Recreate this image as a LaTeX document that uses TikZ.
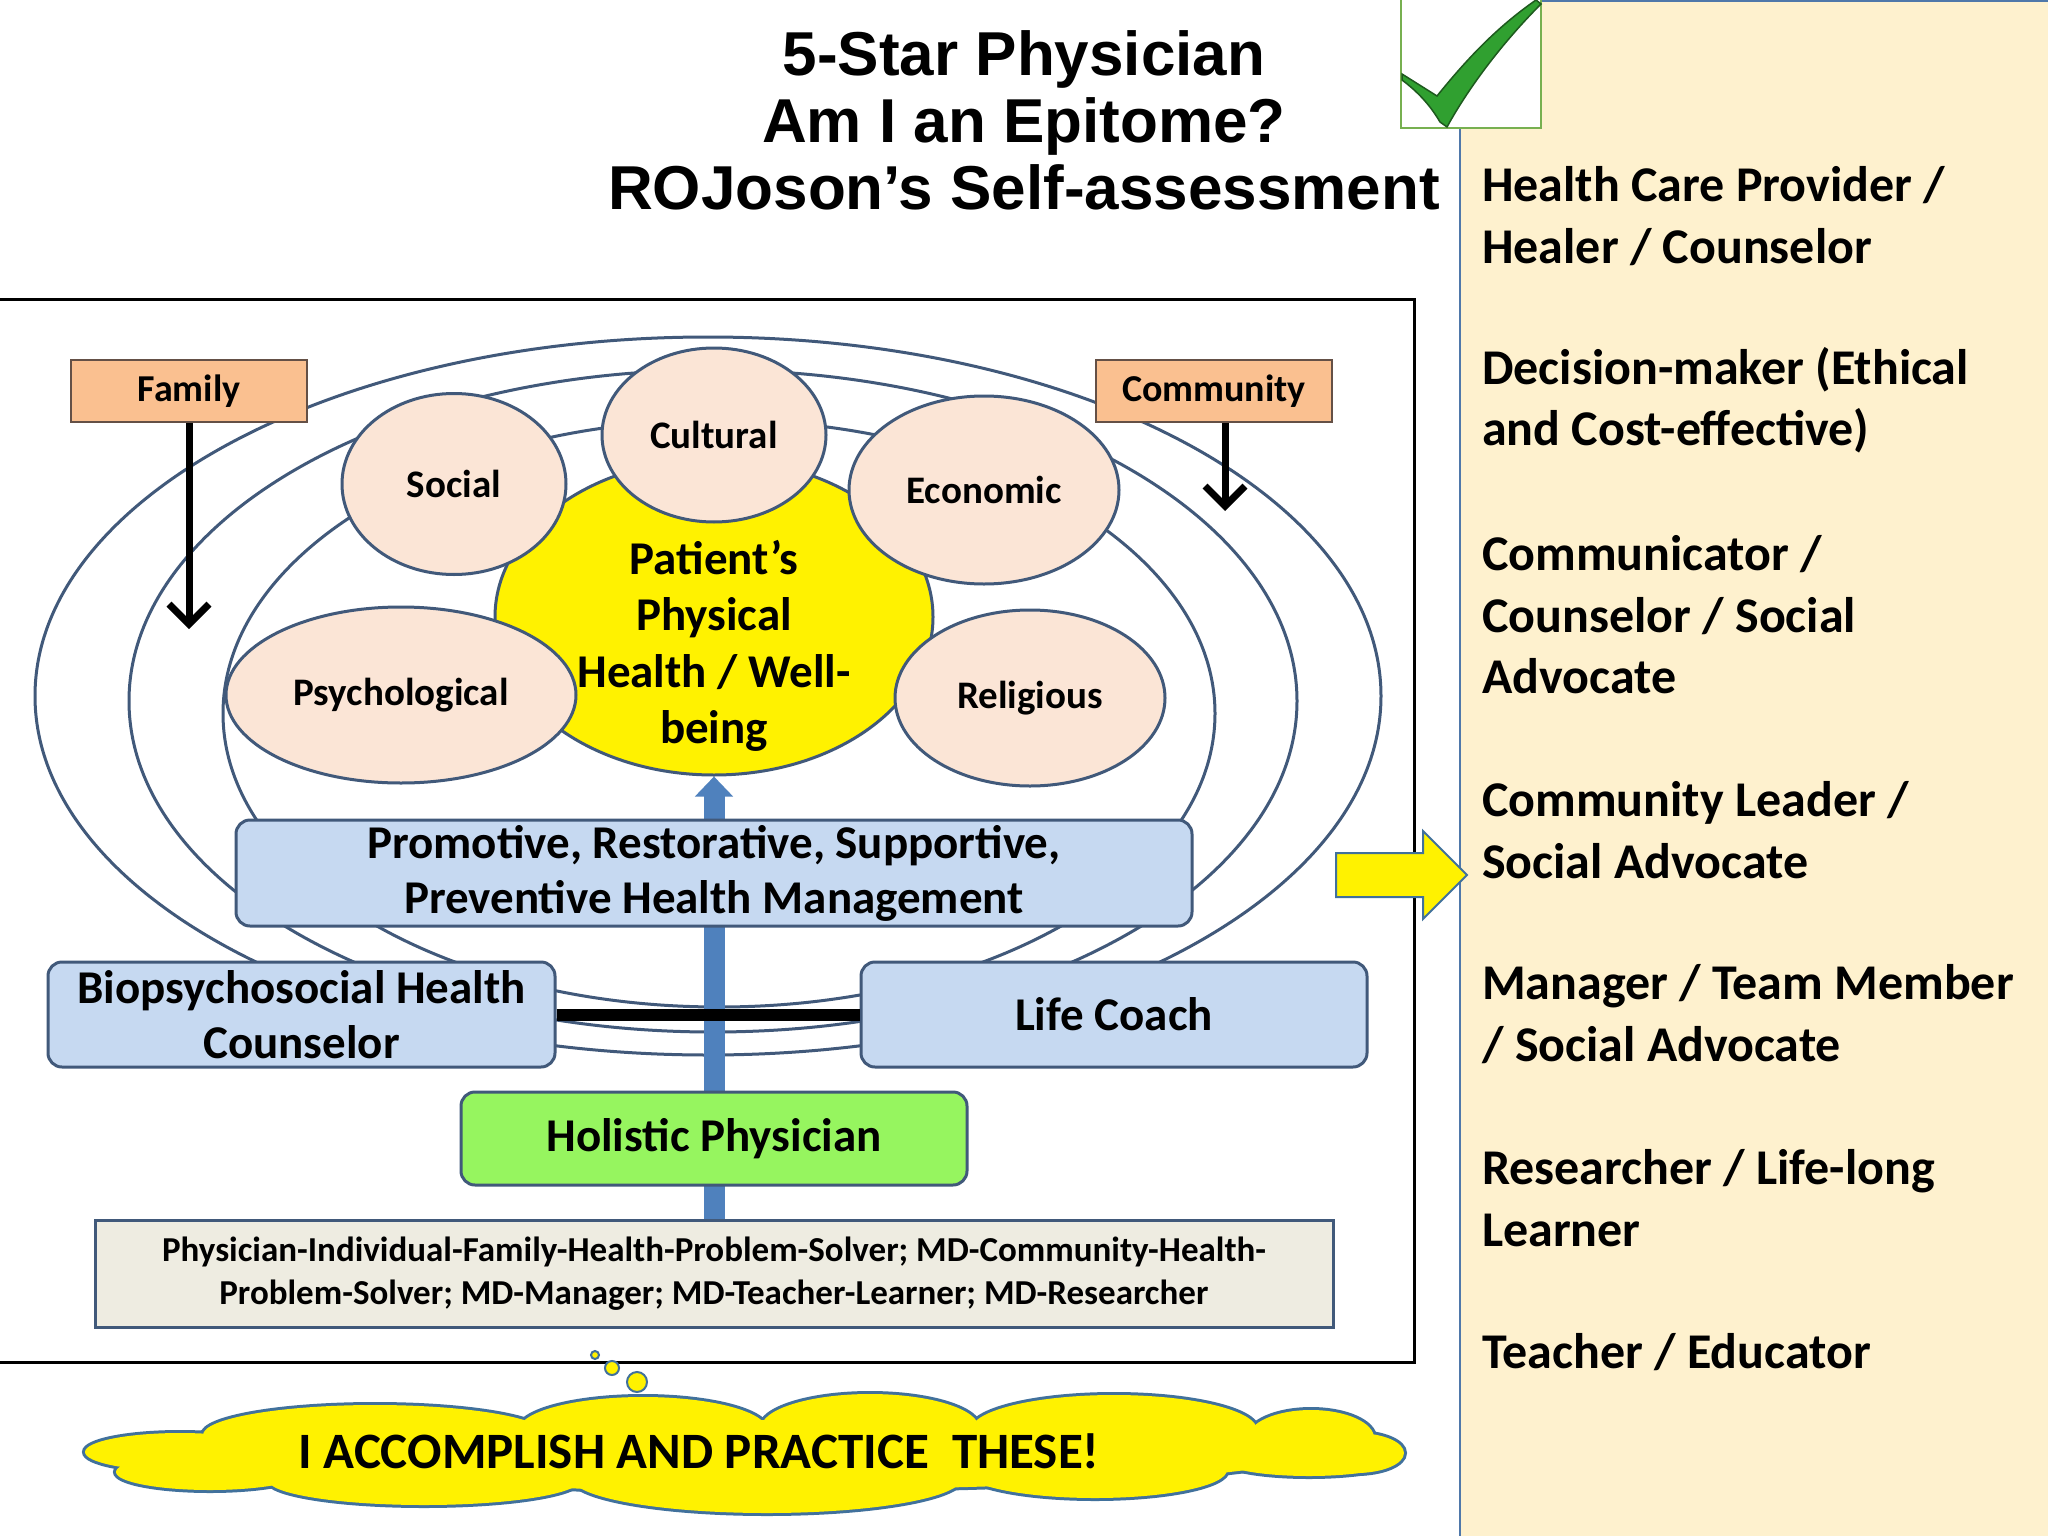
\documentclass[tikz,border=0pt]{standalone}
\usepackage{fontspec}
\setmainfont{Carlito}
\newfontfamily\titlefont{Liberation Sans}
\usetikzlibrary{shapes.geometric,arrows.meta,calc}
\definecolor{ringc}{RGB}{65,89,122}
\definecolor{peach}{RGB}{251,229,214}
\definecolor{boxblue}{RGB}{198,217,241}
\definecolor{boxgreen}{RGB}{150,245,95}
\definecolor{boxgray}{RGB}{238,236,225}
\definecolor{famc}{RGB}{250,192,144}
\definecolor{famborder}{RGB}{100,80,70}
\definecolor{panelc}{RGB}{254,241,206}
\definecolor{panelborder}{RGB}{79,120,170}
\definecolor{barblue}{RGB}{79,129,189}
\definecolor{checkgreen}{RGB}{48,160,48}
\definecolor{checkdark}{RGB}{30,90,30}
\definecolor{checkboxc}{RGB}{119,176,80}
\definecolor{cloudborder}{RGB}{65,113,156}
\newcommand\fsz[2]{\fontsize{#1}{#2}\selectfont}
\tikzset{
 ring/.style={draw=ringc, line width=3pt},
 blob/.style={ellipse, draw=ringc, line width=3pt, fill=peach, inner sep=0pt, font={\fsz{39}{47}\bfseries}},
 rbox/.style={rectangle, rounded corners=14pt, draw=ringc, line width=3pt, inner sep=0pt, align=center, fill=boxblue, font={\fsz{47}{55}\bfseries}},
 tagbox/.style={rectangle, draw=famborder, line width=1.5pt, fill=famc, inner sep=0pt, minimum width=236pt, minimum height=62pt, font={\fsz{38}{46}\bfseries}},
 darrow/.style={line width=7pt, -{Straight Barb[length=20pt,width=40pt]}},
 rolestext/.style={anchor=west, align=left, inner sep=0pt, font={\fsz{50}{61.4}\bfseries}},
}
\begin{document}
\begin{tikzpicture}[x=1pt,y=-1pt]
\useasboundingbox (0,0) rectangle (2048,1536);
\fill[white] (0,0) rectangle (2048,1536);
% right panel
\fill[panelc] (1460,0) rectangle (2060,1545);
\draw[panelborder, line width=2pt] (1460,1545) -- (1460,1) -- (2060,1);
% check box
\draw[checkboxc, line width=2.5pt, fill=white] (1401,-3) rectangle (1541,128);
\draw[checkdark, line width=1.5pt, fill=checkgreen] (1402,74) -- (1437,96) .. controls (1470,55) and (1500,25) .. (1536,0) -- (1541,4) .. controls (1505,40) and (1470,85) .. (1447,127) -- (1440,122) .. controls (1430,105) and (1418,92) .. (1402,80) -- cycle;
% title
\node[align=center, inner sep=0pt, font={\titlefont\bfseries\fsz{62}{67}}] (title) at (1024,120) {5-Star Physician\\Am I an Epitome?\\ROJoson’s Self-assessment};
% frame
\draw[line width=3pt] (-5,299) -- (1414,299) -- (1414,1362) -- (-5,1362);
% rings
\draw[ring] (708,696) ellipse [x radius=673pt, y radius=359pt];
\draw[ring] (713,701) ellipse [x radius=584pt, y radius=331pt];
\draw[ring] (719,713.5) ellipse [x radius=496pt, y radius=293.5pt];
% centre
\node[ellipse, draw=ringc, line width=3pt, fill=yellow, inner sep=0pt, minimum width=438pt, minimum height=316pt] (pat) at (714,617) {};
\node[blob, minimum width=224pt, minimum height=181pt] (social) at (454,484) {Social};
\node[blob, minimum width=224pt, minimum height=174pt] (cultural) at (714,435) {Cultural};
\node[blob, minimum width=270pt, minimum height=188pt] (economic) at (984,490) {Economic};
\node[blob, minimum width=350pt, minimum height=176pt] (psych) at (401,695) {Psychological};
\node[blob, minimum width=270pt, minimum height=176pt] (relig) at (1030,698) {Religious};
\node[align=center, inner sep=0pt, font={\fsz{47}{56.5}\bfseries}] (pattext) at (714,646) {Patient’s\\Physical\\Health / Well-\\being};
% family / community
\node[tagbox] (fam) at (189,391) {Family};
\node[tagbox] (com) at (1214,391) {Community};
\coordinate (famtip) at (189,629);
\coordinate (comtip) at (1225,511);
\draw[darrow] (fam.south) -- (famtip);
\draw[darrow] (com.south -| comtip) -- (comtip);
% bottom box and central arrow
\node[rectangle, draw=ringc, line width=3pt, fill=boxgray, inner sep=0pt, minimum width=1238pt, minimum height=107pt, align=center, font={\fsz{35}{43}\bfseries}] (gray) at (714,1273.5) {Physician-Individual-Family-Health-Problem-Solver; MD-Community-Health-\\Problem-Solver; MD-Manager; MD-Teacher-Learner; MD-Researcher};
\draw[line width=21pt, barblue, -{Triangle[length=20pt,width=37pt]}] (gray.north) -- (pat.south);
% boxes
\node[rbox, minimum width=956pt, minimum height=106pt] (prom) at (714,873) {Promotive, Restorative, Supportive,\\Preventive Health Management};
\node[rbox, minimum width=507pt, minimum height=105pt] (bio) at (301.5,1014.5) {Biopsychosocial Health\\Counselor};
\node[rbox, minimum width=506pt, minimum height=105pt] (life) at (1114,1014.5) {Life Coach};
\draw[line width=12pt] (bio.east) -- (life.west);
\node[rbox, fill=boxgreen, minimum width=506pt, minimum height=93pt] (hol) at (714,1138.5) {Holistic Physician};
% cloud
\foreach \cx/\cy/\rx/\ry in {180/1452/95/19, 375/1435/172/30, 643/1430/124/33, 870/1428/109/34, 1114/1430/143/35, 1311/1438/63/28, 1356/1453/48/20, 1309/1460/87/16, 1095/1470/132/28, 767/1478/195/35, 424/1480/156/25, 210/1472/94/18, 740/1455/560/35}
  \draw[cloudborder, line width=6pt] (\cx,\cy) ellipse [x radius=\rx pt, y radius=\ry pt];
\foreach \cx/\cy/\rx/\ry in {180/1452/95/19, 375/1435/172/30, 643/1430/124/33, 870/1428/109/34, 1114/1430/143/35, 1311/1438/63/28, 1356/1453/48/20, 1309/1460/87/16, 1095/1470/132/28, 767/1478/195/35, 424/1480/156/25, 210/1472/94/18, 740/1455/560/35}
  \fill[yellow] (\cx,\cy) ellipse [x radius=\rx pt, y radius=\ry pt];
\draw[cloudborder, line width=2pt, fill=yellow] (595,1355) circle [radius=4pt];
\draw[cloudborder, line width=2pt, fill=yellow] (612,1368) circle [radius=7pt];
\draw[cloudborder, line width=2pt, fill=yellow] (637,1382) circle [radius=10pt];
\node[inner sep=0pt, font={\fsz{51}{60}\bfseries}] (cloudtext) at (699,1451) {I ACCOMPLISH AND PRACTICE\ \ THESE!};
% yellow arrow
\draw[fill=yellow, draw=cloudborder, line width=2pt] (1336,853) -- (1423,853) -- (1423,831) -- (1467,875) -- (1423,919) -- (1423,897) -- (1336,897) -- cycle;
% roles
\node[rolestext] (r1) at (1482,216) {Health Care Provider /\\Healer / Counselor};
\node[rolestext] (r2) at (1482,400) {Decision-maker (Ethical\\and Cost-effective)};
\node[rolestext] (r3) at (1482,615) {Communicator /\\Counselor / Social\\Advocate};
\node[rolestext] (r4) at (1482,830) {Community Leader /\\Social Advocate};
\node[rolestext] (r5) at (1482,1014) {Manager / Team Member\\/ Social Advocate};
\node[rolestext] (r6) at (1482,1198) {Researcher / Life-long\\Learner};
\node[rolestext] (r7) at (1482,1352) {Teacher / Educator};
\end{tikzpicture}
\end{document}
